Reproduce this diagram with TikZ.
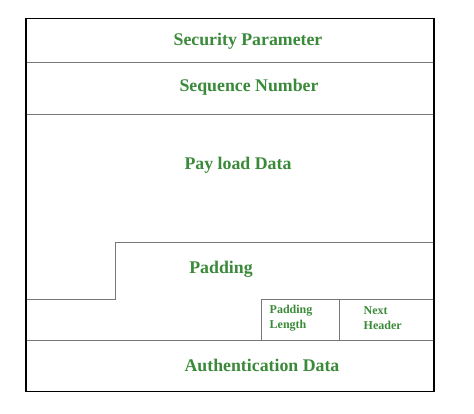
\documentclass[tikz,border=0pt]{standalone}
\usepackage{fontspec}
\setmainfont{Liberation Serif}
\definecolor{lblgreen}{HTML}{3A8A3A}
\definecolor{linegray}{HTML}{777777}
\begin{document}
\begin{tikzpicture}[x=1pt,y=-1pt,
  big/.style={text=lblgreen,font=\bfseries\fontsize{17.8}{20}\selectfont,inner sep=0pt},
  small/.style={text=lblgreen,font=\bfseries\fontsize{12}{14.5}\selectfont,inner sep=0pt,align=left,anchor=west},
  thin/.style={draw=linegray,line width=0.8pt},
  outer/.style={draw=black,line width=1.4pt}]
\useasboundingbox[fill=white] (0,0) rectangle (474,414);
% inner lines
\draw[thin] (26,62) -- (434,62);
\draw[thin] (26,114) -- (434,114);
\draw[thin] (434,242) -- (115.7,242) -- (115.7,299) -- (26,299);
\draw[thin] (434,299) -- (261.7,299) -- (261.7,340.7);
\draw[thin] (339.3,299) -- (339.3,340.7);
\draw[thin] (26,340.7) -- (434,340.7);
% outer box
\draw[outer] (26,18.5) rectangle (434,391.5);
% labels
\node[big] (sp) at (248,41) {Security Parameter};
\node[big] (sn) at (249,87) {Sequence Number};
\node[big] (pd) at (238,165) {Pay load Data};
\node[big] (pad) at (221,269) {Padding};
\node[small] (pl) at (269.5,318) {Padding\\Length};
\node[small] (nh) at (363.5,318) {Next\\Header};
\node[big] (ad) at (262,365) {Authentication Data};
\end{tikzpicture}
\end{document}
